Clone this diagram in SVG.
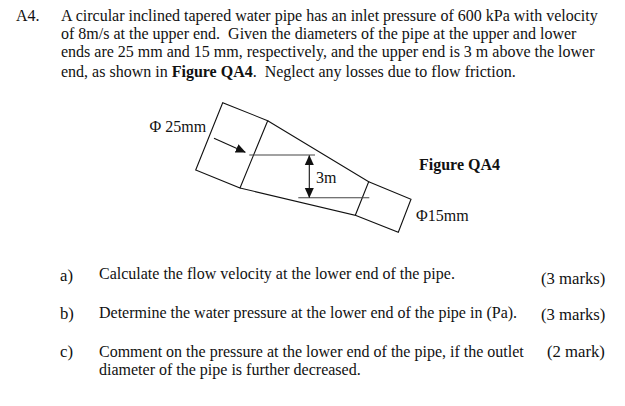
<svg xmlns="http://www.w3.org/2000/svg" width="625" height="406" viewBox="0 0 625 406">
<style>
text{font-family:"Liberation Serif","Times New Roman",serif;font-size:16px;fill:#111}
.b{font-weight:bold}
.m{font-size:16.7px}
.l{fill:none;stroke:#111;stroke-width:1.1}
.g{fill:none;stroke:#444;stroke-width:1.1}
</style>
<defs>
<marker id="a" viewBox="0 0 10 10" refX="9.5" refY="5" markerWidth="10" markerHeight="10" markerUnits="userSpaceOnUse" orient="auto-start-reverse"><path d="M0 0.5L10 5L0 9.5Z" fill="#111"/></marker>
</defs>
<rect width="625" height="406" fill="#fff"/>
<g id="question">
<text x="16" y="21">A4.</text>
<text x="61" y="21">A circular inclined tapered water pipe has an inlet pressure of 600 kPa with velocity</text>
<text x="61" y="39">of 8m/s at the upper end.&#160; Given the diameters of the pipe at the upper and lower</text>
<text x="61" y="57">ends are 25 mm and 15 mm, respectively, and the upper end is 3 m above the lower</text>
<text x="61" y="77">end, as shown in <tspan class="b">Figure QA4</tspan>.&#160; Neglect any losses due to flow friction.</text>
</g>
<g id="pipe">
<path class="l" d="M267.7 120.7L222.7 102.7L195.7 170L240 188Z"/>
<path class="l" d="M267.7 120.7L368.7 181.7L355.3 215.3L240 188"/>
<path class="l" d="M368.7 181.7L411 199.3L398.3 232.3L355.3 215.3"/>
</g>
<g id="connectors">
<path class="l" marker-end="url(#a)" d="M214 138.3L245.3 152.3"/>
<path class="g" d="M249.3 155H315"/>
<path class="g" d="M298.3 197.7H369.3"/>
<path class="l" marker-start="url(#a)" marker-end="url(#a)" d="M309.3 155.5V197.5"/>
</g>
<g id="labels">
<text x="149.5" y="132">Φ 25mm</text>
<text x="316" y="183">3m</text>
<text class="b" x="419" y="170">Figure QA4</text>
<text x="416" y="221">Φ15mm</text>
</g>
<g id="parts">
<text class="m" x="60" y="281">a)</text>
<text x="99" y="279">Calculate the flow velocity at the lower end of the pipe.</text>
<text class="m" x="541" y="284">(3 marks)</text>
<text class="m" x="60" y="319">b)</text>
<text x="99" y="318">Determine the water pressure at the lower end of the pipe in (Pa).</text>
<text class="m" x="541" y="320">(3 marks)</text>
<text class="m" x="60" y="357">c)</text>
<text x="99" y="357">Comment on the pressure at the lower end of the pipe, if the outlet</text>
<text class="m" x="547" y="357">(2 mark)</text>
<text x="99" y="375">diameter of the pipe is further decreased.</text>
</g>
</svg>
